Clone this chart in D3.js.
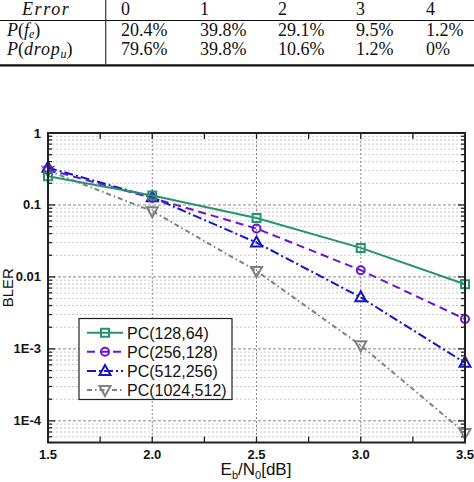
<!DOCTYPE html>
<html><head><meta charset="utf-8">
<script src="https://cdn.jsdelivr.net/npm/d3@7"></script>
<style>html,body{margin:0;padding:0;background:#fff;}svg{display:block;}</style>
</head><body>
<svg id="c" width="474" height="482"></svg>
<script>
// ---- table data ----
const errorLabels = ["0", "1", "2", "3", "4"];
const pFe = ["20.4%", "39.8%", "29.1%", "9.5%", "1.2%"];
const pDrop = ["79.6%", "39.8%", "10.6%", "1.2%", "0%"];

// ---- chart data ----
const ebn0 = [1.5, 2.0, 2.5, 3.0, 3.5];
const pc128 = [0.25, 0.135, 0.066, 0.0253, 0.0079];
const pc256 = [0.31, 0.125, 0.047, 0.0124, 0.0026];
const pc512 = [0.33, 0.128, 0.030, 0.0052, 0.00064];
const pc1024 = [0.30, 0.082, 0.0121, 0.00112, 0.000068];
const seriesNames = ["PC(128,64)", "PC(256,128)", "PC(512,256)", "PC(1024,512)"];
const xTickLabels = ["1.5", "2.0", "2.5", "3.0", "3.5"];
const yTickValues = [1, 0.1, 0.01, 0.001, 0.0001];
const yTickLabels = ["1", "0.1", "0.01", "1E-3", "1E-4"];

const svg = d3.select("#c");

// ---- table ----
const serif = "'Liberation Serif','DejaVu Serif',serif";
const tbl = svg.append("g").attr("font-family", serif).attr("font-size", 18).attr("fill", "#111");
const colX = [121, 200, 278, 356, 426];
tbl.append("text").attr("x", 22).attr("y", 14.5).attr("font-style", "italic").attr("letter-spacing", 1.6).text("Error");
errorLabels.forEach((t, i) => tbl.append("text").attr("x", colX[i]).attr("y", 14.5).text(t));
tbl.append("line").attr("x1", 0).attr("x2", 474).attr("y1", 20.5).attr("y2", 20.5).attr("stroke", "#111").attr("stroke-width", 1);
tbl.append("line").attr("x1", 105.7).attr("x2", 105.7).attr("y1", 0).attr("y2", 64).attr("stroke", "#333").attr("stroke-width", 1.2);
const r1 = tbl.append("text").attr("x", 7).attr("y", 35.7);
r1.append("tspan").attr("font-style", "italic").text("P");
r1.append("tspan").text("(");
r1.append("tspan").attr("font-style", "italic").text("f");
r1.append("tspan").attr("font-style", "italic").attr("font-size", 12).attr("dy", 2.5).text("e");
r1.append("tspan").attr("dy", -2.5).text(")");
const r2 = tbl.append("text").attr("x", 7).attr("y", 54.5);
r2.append("tspan").attr("font-style", "italic").text("P");
r2.append("tspan").text("(");
r2.append("tspan").attr("font-style", "italic").attr("letter-spacing", 0.8).text("drop");
r2.append("tspan").attr("font-style", "italic").attr("font-size", 12).attr("dy", 3).text("u");
r2.append("tspan").attr("dy", -3).text(")");
pFe.forEach((t, i) => tbl.append("text").attr("x", colX[i]).attr("y", 35.7).text(t));
pDrop.forEach((t, i) => tbl.append("text").attr("x", colX[i]).attr("y", 54.5).text(t));
tbl.append("line").attr("x1", 0).attr("x2", 474).attr("y1", 65.3).attr("y2", 65.3).attr("stroke", "#111").attr("stroke-width", 2.2);

// ---- chart ----
const L = 48, R = 465, T = 133, B = 442.5;
const x = d3.scaleLinear().domain([1.5, 3.5]).range([L, R]);
const y = d3.scaleLog().domain([5e-5, 1]).range([B, T]);
const sans = "'Liberation Sans',Arial,sans-serif";

const g = svg.append("g");
// minor y gridlines
const minorY = [];
for (let e = -5; e < 0; e++) for (let m = 2; m <= 9; m++) { const v = m * Math.pow(10, e); if (v >= 5e-5 && v < 1) minorY.push(v); }
g.selectAll(".gmy").data(minorY).enter().append("line")
  .attr("x1", L).attr("x2", R).attr("y1", d => y(d)).attr("y2", d => y(d))
  .attr("stroke", "#c8c8c8").attr("stroke-width", 1).attr("stroke-dasharray", "2,2");
g.selectAll(".gMy").data(yTickValues.slice(1)).enter().append("line")
  .attr("x1", L).attr("x2", R).attr("y1", d => y(d)).attr("y2", d => y(d))
  .attr("stroke", "#8a8a8a").attr("stroke-width", 1).attr("stroke-dasharray", "3,2");
g.selectAll(".gMx").data([2.0, 2.5, 3.0]).enter().append("line")
  .attr("y1", T).attr("y2", B).attr("x1", d => x(d)).attr("x2", d => x(d))
  .attr("stroke", "#8a8a8a").attr("stroke-width", 1).attr("stroke-dasharray", "2,2");

// ticks (inward)
const xTicksAll = d3.range(1.5, 3.5001, 0.25);
const tk = g.append("g").attr("stroke", "#222").attr("stroke-width", 1.3);
xTicksAll.forEach(v => {
  tk.append("line").attr("x1", x(v)).attr("x2", x(v)).attr("y1", B).attr("y2", B - 6);
  tk.append("line").attr("x1", x(v)).attr("x2", x(v)).attr("y1", T).attr("y2", T + 6);
});
minorY.forEach(v => {
  tk.append("line").attr("x1", L).attr("x2", L + 4).attr("y1", y(v)).attr("y2", y(v));
  tk.append("line").attr("x1", R).attr("x2", R - 4).attr("y1", y(v)).attr("y2", y(v));
});
yTickValues.forEach(v => {
  tk.append("line").attr("x1", L).attr("x2", L + 7).attr("y1", y(v)).attr("y2", y(v));
  tk.append("line").attr("x1", R).attr("x2", R - 7).attr("y1", y(v)).attr("y2", y(v));
});

// series
const series = [
  { name: seriesNames[0], vals: pc128, color: "#23946c", dash: null, marker: "square" },
  { name: seriesNames[1], vals: pc256, color: "#6a14d6", dash: "8,5", marker: "circle" },
  { name: seriesNames[2], vals: pc512, color: "#1515c4", dash: "9,3,2,3", marker: "tri" },
  { name: seriesNames[3], vals: pc1024, color: "#808080", dash: "5,3,1.5,3", marker: "itri" }
];
const line = d3.line().x((d, i) => x(ebn0[i])).y(d => y(d));
function drawMarker(sel, type, cx, cy, color) {
  const m = sel.append("path").attr("fill", "none").attr("stroke", color).attr("stroke-width", 2);
  if (type === "square") m.attr("d", `M${cx-4},${cy-4}h8v8h-8z`);
  else if (type === "circle") m.attr("d", d3.symbol(d3.symbolCircle, 50)()).attr("transform", `translate(${cx},${cy})`);
  else if (type === "tri") m.attr("d", `M${cx},${cy-6}L${cx+5.5},${cy+4}L${cx-5.5},${cy+4}Z`);
  else m.attr("d", `M${cx},${cy+6}L${cx+5.5},${cy-4}L${cx-5.5},${cy-4}Z`);
}
const sg = g.append("g");
series.slice().reverse().forEach(s => {
  sg.append("path").datum(s.vals).attr("d", line).attr("fill", "none")
    .attr("stroke", s.color).attr("stroke-width", 2).attr("stroke-dasharray", s.dash);
  s.vals.forEach((v, i) => drawMarker(sg, s.marker, x(ebn0[i]), y(v), s.color));
});

// frame
g.append("rect").attr("x", L).attr("y", T).attr("width", R - L).attr("height", B - T)
  .attr("fill", "none").attr("stroke", "#222").attr("stroke-width", 2);

// tick labels
const lab = svg.append("g").attr("font-family", sans).attr("font-weight", "bold").attr("font-size", 13).attr("fill", "#111");
xTickLabels.forEach((t, i) => lab.append("text").attr("x", x(ebn0[i])).attr("y", 459).attr("text-anchor", "middle").text(t));
yTickValues.forEach((v, i) => lab.append("text").attr("x", 41).attr("y", y(v) + 4.5).attr("text-anchor", "end").text(yTickLabels[i]));

// axis titles
const xt = svg.append("text").attr("font-family", sans).attr("font-size", 17).attr("fill", "#111")
  .attr("x", 256).attr("y", 475).attr("text-anchor", "middle");
xt.append("tspan").text("E");
xt.append("tspan").attr("font-size", 11).attr("dy", 4).text("b");
xt.append("tspan").attr("dy", -4).text("/N");
xt.append("tspan").attr("font-size", 11).attr("dy", 4).text("0");
xt.append("tspan").attr("dy", -4).text("[dB]");
svg.append("text").attr("font-family", sans).attr("font-size", 15).attr("fill", "#111")
  .attr("transform", `translate(13,${(T + B) / 2}) rotate(-90)`).attr("text-anchor", "middle").text("BLER");

// legend
const lg = svg.append("g");
lg.append("rect").attr("x", 79).attr("y", 318.5).attr("width", 153).attr("height", 81)
  .attr("fill", "#fff").attr("stroke", "#222").attr("stroke-width", 1.2);
const rowY = [332.7, 351.7, 371, 390];
series.forEach((s, i) => {
  lg.append("line").attr("x1", 87).attr("x2", 123).attr("y1", rowY[i]).attr("y2", rowY[i])
    .attr("stroke", s.color).attr("stroke-width", 2).attr("stroke-dasharray", s.dash);
  drawMarker(lg, s.marker, 105, rowY[i], s.color);
  lg.append("text").attr("x", 127).attr("y", rowY[i] + 5.8).attr("font-family", sans).attr("font-size", 16)
    .attr("fill", "#111").text(s.name);
});
</script>
</body></html>
